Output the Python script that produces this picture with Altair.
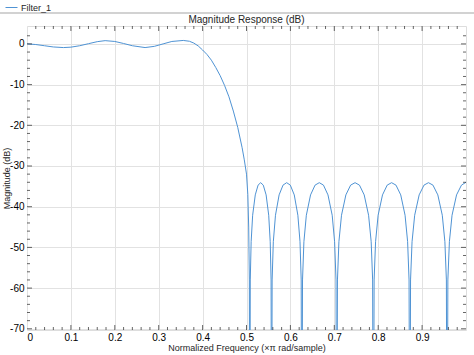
import altair as alt
import pandas as pd

# ---- data ----
# passband and transition band
PASS_F = [0, 0.02, 0.04, 0.06, 0.083, 0.10, 0.12, 0.14, 0.16, 0.178, 0.20, 0.22,
          0.24, 0.269, 0.29, 0.31, 0.33, 0.356, 0.37, 0.38, 0.39, 0.40, 0.41, 0.42,
          0.43, 0.44, 0.45, 0.46, 0.47, 0.48, 0.49, 0.495, 0.50, 0.503, 0.505, 0.5065]
PASS_M = [0, -0.15, -0.45, -0.75, -0.9, -0.8, -0.45, 0.05, 0.55, 0.8, 0.6, 0.1,
          -0.45, -0.9, -0.6, 0.0, 0.6, 0.85, 0.65, 0.2, -0.5, -1.5, -2.6, -4.0,
          -5.8, -7.8, -10.2, -13.0, -16.5, -20.5, -25.5, -28.5, -32.0, -37.0, -45.0, -58.0]

# stopband: nulls and lobes
STOP_F = [0.5076,
          0.5086, 0.5106, 0.5140, 0.5200, 0.5264, 0.5323, 0.5382, 0.5447, 0.5506, 0.5540, 0.5560,
          0.5570,
          0.5584, 0.5611, 0.5660, 0.5743, 0.5832, 0.5915, 0.5998, 0.6088, 0.6170, 0.6219, 0.6246,
          0.6260,
          0.6276, 0.6308, 0.6363, 0.6459, 0.6562, 0.6658, 0.6753, 0.6856, 0.6952, 0.7007, 0.7039,
          0.7055,
          0.7072, 0.7105, 0.7164, 0.7264, 0.7372, 0.7473, 0.7573, 0.7681, 0.7781, 0.7840, 0.7873,
          0.7890,
          0.7907, 0.7940, 0.7998, 0.8098, 0.8205, 0.8305, 0.8405, 0.8513, 0.8612, 0.8670, 0.8703,
          0.8720,
          0.8737, 0.8771, 0.8831, 0.8933, 0.9043, 0.9145, 0.9247, 0.9358, 0.9460, 0.9519, 0.9553,
          0.9570,
          0.9587, 0.9622, 0.9682, 0.9785, 0.9897, 1.0]
STOP_M = [-120,
          -58, -48.6, -42.1, -37.1, -34.7, -34.1, -34.7, -37.1, -42.1, -48.6, -58,
          -120,
          -58, -48.6, -42.1, -37.1, -34.7, -34.1, -34.7, -37.1, -42.1, -48.6, -58,
          -120,
          -58, -48.6, -42.1, -37.1, -34.7, -34.1, -34.7, -37.1, -42.1, -48.6, -58,
          -120,
          -58, -48.6, -42.1, -37.1, -34.7, -34.1, -34.7, -37.1, -42.1, -48.6, -58,
          -120,
          -58, -48.6, -42.1, -37.1, -34.7, -34.1, -34.7, -37.1, -42.1, -48.6, -58,
          -120,
          -58, -48.6, -42.1, -37.1, -34.7, -34.1, -34.7, -37.1, -42.1, -48.6, -58,
          -120,
          -58, -48.6, -42.1, -37.1, -34.7, -34.0]

X_TICKS = [0, 0.1, 0.2, 0.3, 0.4, 0.5, 0.6, 0.7, 0.8, 0.9]
Y_TICKS = [0, -10, -20, -30, -40, -50, -60, -70]
X_MINOR = [0.02, 0.04, 0.06, 0.08, 0.12, 0.14, 0.16, 0.18, 0.22, 0.24, 0.26, 0.28,
           0.32, 0.34, 0.36, 0.38, 0.42, 0.44, 0.46, 0.48, 0.52, 0.54, 0.56, 0.58,
           0.62, 0.64, 0.66, 0.68, 0.72, 0.74, 0.76, 0.78, 0.82, 0.84, 0.86, 0.88,
           0.92, 0.94, 0.96, 0.98]
Y_MINOR = [2, -2, -4, -6, -8, -12, -14, -16, -18, -22, -24, -26, -28, -32, -34, -36, -38,
           -42, -44, -46, -48, -52, -54, -56, -58, -62, -64, -66, -68]
SERIES = "Filter_1"
TITLE = "Magnitude Response (dB)"

FONT = "Liberation Sans"
INK = "#262626"
LABEL = "#404040"
BLUE = "#4f93d4"
X_DOMAIN = [0, 1]
Y_DOMAIN = [-70.3, 4.4]

line_df = pd.DataFrame({"f": PASS_F + STOP_F, "m": PASS_M + STOP_M, "s": SERIES})
xmaj_df = pd.DataFrame({"f": X_TICKS[1:]})
xmin_df = pd.DataFrame({"f": X_MINOR})
ymaj_df = pd.DataFrame({"m": Y_TICKS})
ymin_df = pd.DataFrame({"m": Y_MINOR})
title_df = pd.DataFrame({"t": [TITLE]})

xs = alt.Scale(domain=X_DOMAIN, nice=False, zero=False)
ys = alt.Scale(domain=Y_DOMAIN, nice=False, zero=False)

W, H = 439, 304

line = alt.Chart(line_df).mark_line(clip=True, strokeWidth=1).encode(
    x=alt.X("f:Q", scale=xs,
            axis=alt.Axis(values=X_TICKS, format=".1~f", grid=True, gridColor="#e2e2e2",
                          ticks=False, domain=False, labelPadding=2,
                          title="Normalized Frequency (×π rad/sample)", titlePadding=1,
                          titleFontWeight="normal", titleFontSize=9, titleFont=FONT,
                          titleColor=INK)),
    y=alt.Y("m:Q", scale=ys,
            axis=alt.Axis(values=Y_TICKS, labelExpr="'' + datum.value", grid=True,
                          gridColor="#e2e2e2", ticks=False, domain=False, labelPadding=3,
                          title="Magnitude (dB)", titleX=-21, titleY=H / 2,
                          titleAlign="center", titleBaseline="middle", titleAngle=270,
                          titleFontWeight="normal", titleFontSize=9, titleFont=FONT,
                          titleColor=INK)),
    color=alt.Color("s:N", scale=alt.Scale(range=[BLUE]),
                    legend=alt.Legend(orient="none", legendX=-22, legendY=-25, title=None,
                                      symbolType="stroke", symbolSize=144,
                                      symbolStrokeWidth=1, labelFontSize=9,
                                      labelFont=FONT, labelColor=INK, labelOffset=3)),
)

def xticks(df, y, size):
    return alt.Chart(df).mark_tick(orient="vertical", size=size, thickness=1, color=INK).encode(
        x=alt.X("f:Q", scale=xs), y=alt.value(y))

def yticks(df, x, size):
    return alt.Chart(df).mark_tick(orient="horizontal", size=size, thickness=1, color=INK).encode(
        y=alt.Y("m:Q", scale=ys), x=alt.value(x))

ticks = [
    xticks(xmaj_df, 2.5, 5), xticks(xmaj_df, H - 2.5, 5),
    xticks(xmin_df, 1.5, 3), xticks(xmin_df, H - 1.5, 3),
    yticks(ymaj_df, 2.5, 5), yticks(ymaj_df, W - 2.5, 5),
    yticks(ymin_df, 1.5, 3), yticks(ymin_df, W - 1.5, 3),
]

sep = alt.Chart(line_df).mark_rule(color="#d2d2d2", strokeWidth=2).encode(
    x=alt.value(-27), x2=alt.value(W + 8), y=alt.value(-13))

title = alt.Chart(title_df).mark_text(
    font=FONT, fontSize=10, color=INK, align="center", baseline="bottom"
).encode(text="t:N", x=alt.value(W / 2), y=alt.value(-1))

chart = alt.layer(line, *ticks, sep, title).properties(
    width=W, height=H,
    autosize=alt.AutoSizeParams(type="none"),
    padding={"left": 27, "top": 26, "right": 8, "bottom": 25},
).configure_view(stroke=INK, strokeWidth=1).configure_axis(
    labelFont=FONT, labelFontSize=8, labelColor=LABEL
).configure(background="white")

chart.save("out.html", embed_options={"renderer": "svg", "actions": False})
